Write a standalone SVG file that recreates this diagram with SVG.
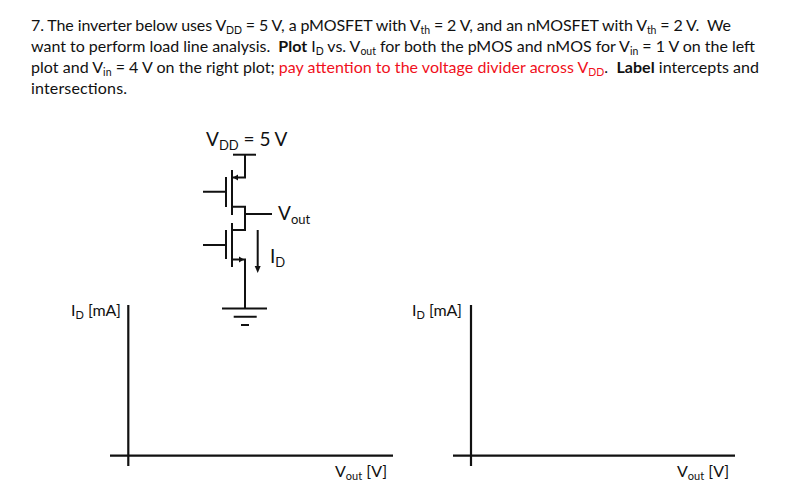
<svg xmlns="http://www.w3.org/2000/svg" width="807" height="501" viewBox="0 0 807 501">
<style>
text{font-family:"Lato","Liberation Sans",sans-serif;fill:#111}
.q{font-size:16px}
.l{font-size:16px}
.v{font-size:19px}
.r{fill:#f01020}
.b{font-weight:700}
.w{stroke:#111;stroke-width:2;fill:none}
.a{stroke:#111;stroke-width:2.2;fill:none}
.h{fill:#111}
</style>
<rect width="807" height="501" fill="#fff"/>
<g id="question">
<text class="q" x="31" y="31" textLength="700" lengthAdjust="spacing" xml:space="preserve">7. The inverter below uses V<tspan font-size="10.5" dy="3">DD</tspan><tspan dy="-3"> = 5 V, a pMOSFET with V</tspan><tspan font-size="10.5" dy="3">th</tspan><tspan dy="-3"> = 2 V, and an nMOSFET with V</tspan><tspan font-size="10.5" dy="3">th</tspan><tspan dy="-3"> = 2 V.  We</tspan></text>
<text class="q" x="31" y="52" textLength="724" lengthAdjust="spacing" xml:space="preserve">want to perform load line analysis.  <tspan class="b">Plot</tspan> I<tspan font-size="10.5" dy="3">D</tspan><tspan dy="-3"> vs. V</tspan><tspan font-size="10.5" dy="3">out</tspan><tspan dy="-3"> for both the pMOS and nMOS for V</tspan><tspan font-size="10.5" dy="3">in</tspan><tspan dy="-3"> = 1 V on the left</tspan></text>
<text class="q" x="31" y="73" textLength="728" lengthAdjust="spacing" xml:space="preserve">plot and V<tspan font-size="10.5" dy="3">in</tspan><tspan dy="-3"> = 4 V on the right plot; </tspan><tspan class="r">pay attention to the voltage divider across V</tspan><tspan class="r" font-size="10.5" dy="3">DD</tspan><tspan dy="-3">.  </tspan><tspan class="b">Label</tspan> intercepts and</text>
<text class="q" x="31" y="94" textLength="96" lengthAdjust="spacing">intersections.</text>
</g>
<g id="connectors">
<path class="w" d="M245 155V177.5H232M232 170V215M226 177V207M203 191.7H226M232 206.7H245V230H232M245 214H272M232 223V267M226 230V259M203 245H226M232 259.5H245V308.5M257.7 230V266"/>
</g>
<g id="vdd"><path class="w" d="M233 154.7H256"/><text class="v" x="206" y="146">V<tspan font-size="13" dy="4">DD</tspan><tspan dy="-4"> = 5 V</tspan></text></g>
<g id="pmos"><path class="h" d="M233 177.5l5-3v6z"/></g>
<g id="nmos"><path class="h" d="M244 259.5l-5-3v6z"/></g>
<g id="vout"><text class="v" x="278" y="220">V<tspan font-size="13" dy="4">out</tspan></text></g>
<g id="id"><path class="h" d="M257.7 273l-3-7h6z"/><text class="v" x="270" y="263">I<tspan font-size="13" dy="4">D</tspan></text></g>
<g id="ground"><path class="w" d="M222 308.5H267M233.7 316.7H256.7M241 325H249"/></g>
<g id="left-plot">
<path class="a" d="M128.3 305V466M110 455.7H393"/>
<text class="l" x="71" y="316">I<tspan font-size="11" dy="3">D</tspan><tspan dy="-3"> [mA]</tspan></text>
<text class="l" x="335" y="477">V<tspan font-size="11" dy="3">out</tspan><tspan dy="-3"> [V]</tspan></text>
</g>
<g id="right-plot">
<path class="a" d="M471 305V466M453 455.7H735"/>
<text class="l" x="412" y="316">I<tspan font-size="11" dy="3">D</tspan><tspan dy="-3"> [mA]</tspan></text>
<text class="l" x="677" y="477">V<tspan font-size="11" dy="3">out</tspan><tspan dy="-3"> [V]</tspan></text>
</g>
</svg>
